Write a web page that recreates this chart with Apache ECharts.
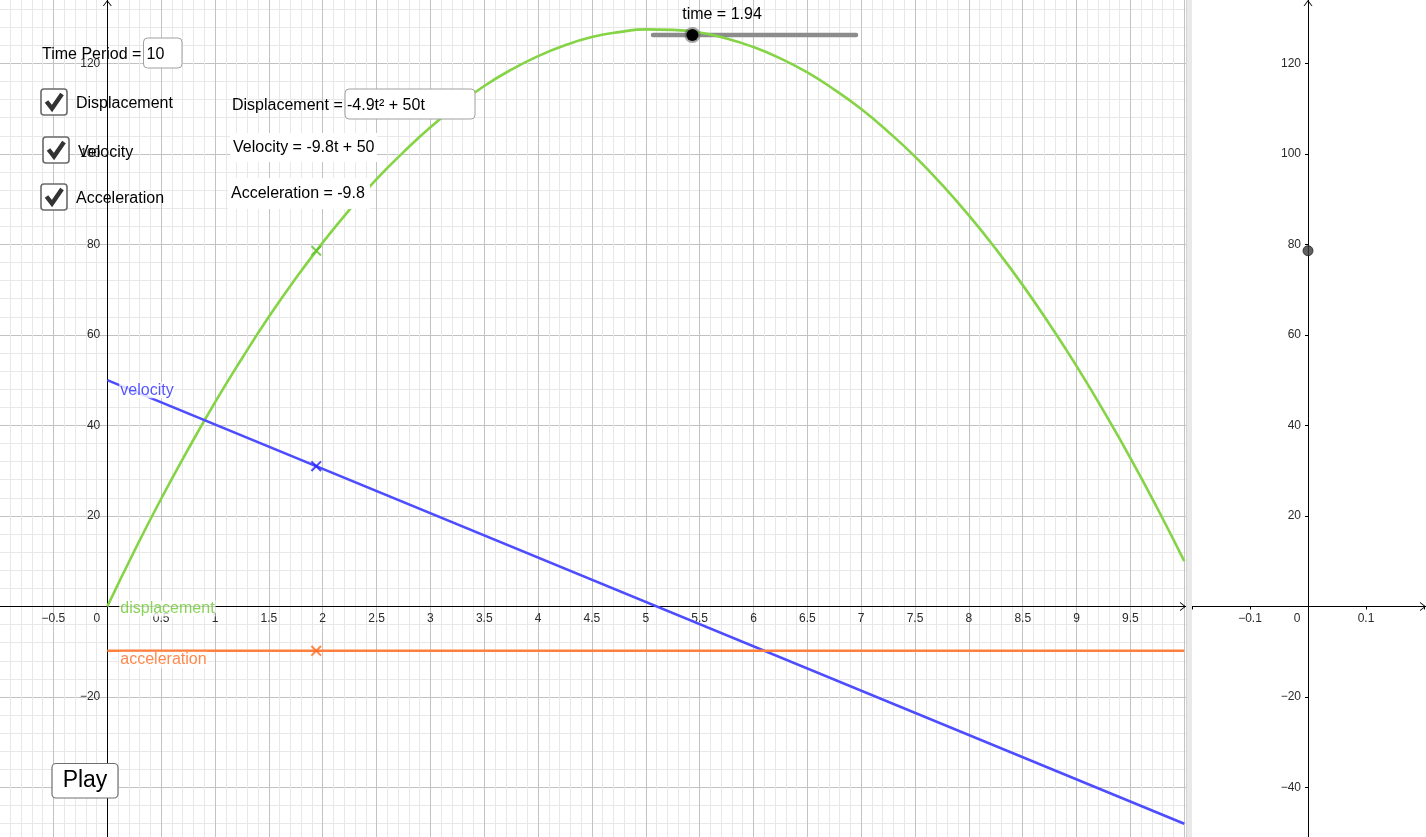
<!DOCTYPE html>
<html><head><meta charset="utf-8">
<script src="https://cdn.jsdelivr.net/npm/echarts@6/dist/echarts.min.js"></script>
<style>html,body{margin:0;padding:0;background:#fff;overflow:hidden}#c{width:1426px;height:837px}</style>
</head><body><div id="c"></div>
<script>
// ---- data ----
const timeValues = [0,0.25,0.5,0.75,1,1.25,1.5,1.75,2,2.25,2.5,2.75,3,3.25,3.5,3.75,4,4.25,4.5,4.75,5,5.25,5.5,5.75,6,6.25,6.5,6.75,7,7.25,7.5,7.75,8,8.25,8.5,8.75,9,9.25,9.5,9.75,10];
const displacementValues = [0,12.2,23.8,34.7,45.1,54.8,64,72.5,80.4,87.7,94.4,100.4,105.9,110.7,115,118.6,121.6,124,125.8,126.9,127.5,127.4,126.8,125.5,123.6,121.1,118,114.2,109.9,104.9,99.4,93.2,86.4,79,71,62.3,53.1,43.2,32.8,21.7,10];
const velocityTimes = [0,10];
const velocityValues = [50,-48];
const accelerationTimes = [0,10];
const accelerationValues = [-9.8,-9.8];
const currentTime = 1.94;
const currentDisplacement = 78.6;
const currentVelocity = 31;
const currentAcceleration = -9.8;
const timePeriod = 10;
const mainXTickLabels = [-0.5,0,0.5,1,1.5,2,2.5,3,3.5,4,4.5,5,5.5,6,6.5,7,7.5,8,8.5,9,9.5];
const yTickLabels = [120,100,80,60,40,20,-20,-40];
const sideXTickLabels = [-0.1,0,0.1];

const FONT = '"Liberation Sans", Arial, sans-serif';
const GREEN = '#84d446', BLUE = '#4d4dff', ORANGE = '#ff7f3f';
const arrow = 'path://M0,6 L4.5,0 L9,6 L8,6 L4.5,1.4 L1,6 Z';

// layout of the two graphics views (pixels)
const MAIN = {left:-0.4, width:1186.4, xmin:-1, xmax:10.016};
const SIDE = {left:1192, width:234, xmin:-0.2, xmax:0.2034};
const YV = {top:0, height:878, ymin:-60, ymax:134};
const zeroYOffset = -(YV.height * (0 - YV.ymin) / (YV.ymax - YV.ymin));
const mainZeroX = -(MAIN.width * (0 - MAIN.xmin) / (MAIN.xmax - MAIN.xmin));
const sideZeroX = -(SIDE.width * (0 - SIDE.xmin) / (SIDE.xmax - SIDE.xmin));

function fmtNum(v){ const r = parseFloat(v.toFixed(3)); return r < 0 ? '\u2212' + Math.abs(r) : String(r); }
function has(list, v){ return list.some(t => Math.abs(t - v) < 1e-6); }

const chart = echarts.init(document.getElementById('c'), null, {renderer:'canvas'});
const axisLabelBase = {fontSize:12, color:'#2a2a2a', fontFamily:FONT};

const option = {
  animation:false,
  backgroundColor:'#fff',
  grid:[
    {left:MAIN.left, top:YV.top, width:MAIN.width, height:YV.height, containLabel:false, outerBoundsMode:'none'},
    {left:SIDE.left, top:YV.top, width:SIDE.width, height:YV.height, containLabel:false, outerBoundsMode:'none'}
  ],
  xAxis:[
    {type:'value', gridIndex:0, min:MAIN.xmin, max:MAIN.xmax, interval:0.5, position:'bottom', offset:zeroYOffset,
     axisLine:{onZero:false, lineStyle:{color:'#000', width:1}, symbol:['none', arrow], symbolSize:[9,6], symbolOffset:[0,-3]},
     axisTick:{show:false},
     axisLabel:Object.assign({}, axisLabelBase, {margin:6, showMinLabel:true, showMaxLabel:false, hideOverlap:false,
       formatter:v => { if(!has(mainXTickLabels, v)) return ''; if(Math.abs(v)<1e-9) return '{z|0}'; return fmtNum(v); },
       rich:{z:{padding:[0,21,0,0], fontSize:12, color:'#2a2a2a', fontFamily:FONT}}}),
     splitLine:{show:true, showMinLine:true, showMaxLine:false, lineStyle:{color:'#c2c2c2', width:1}},
     minorTick:{show:false, splitNumber:5},
     minorSplitLine:{show:true, lineStyle:{color:'#e8e8e8', width:1}}
    },
    {type:'value', gridIndex:1, min:SIDE.xmin, max:SIDE.xmax, interval:0.1, position:'bottom', offset:zeroYOffset,
     axisLine:{onZero:false, lineStyle:{color:'#000', width:1}, symbol:['none', arrow], symbolSize:[9,6], symbolOffset:[0,-3]},
     axisTick:{show:true, length:3, inside:false, lineStyle:{color:'#000'}},
     axisLabel:Object.assign({}, axisLabelBase, {margin:6, showMaxLabel:false, hideOverlap:false,
       formatter:v => { if(!has(sideXTickLabels, v)) return ''; if(Math.abs(v)<1e-9) return '{z|0}'; return fmtNum(v); },
       rich:{z:{padding:[0,22,0,0], fontSize:12, color:'#2a2a2a', fontFamily:FONT}}}),
     splitLine:{show:false}
    }
  ],
  yAxis:[
    {type:'value', gridIndex:0, min:YV.ymin, max:YV.ymax, interval:20, position:'left', offset:mainZeroX,
     axisLine:{onZero:false, lineStyle:{color:'#000', width:1}, symbol:['none', arrow], symbolSize:[9,6], symbolOffset:[0,-3]},
     axisTick:{show:false},
     axisLabel:Object.assign({}, axisLabelBase, {margin:7, showMaxLabel:false, hideOverlap:false,
       formatter:v => has(yTickLabels, v) ? fmtNum(v) : ''}),
     splitLine:{show:true, showMinLine:true, showMaxLine:false, lineStyle:{color:'#c2c2c2', width:1}},
     minorTick:{show:false, splitNumber:5},
     minorSplitLine:{show:true, lineStyle:{color:'#e8e8e8', width:1}}
    },
    {type:'value', gridIndex:1, min:YV.ymin, max:YV.ymax, interval:20, position:'left', offset:sideZeroX,
     axisLine:{onZero:false, lineStyle:{color:'#000', width:1}, symbol:['none', arrow], symbolSize:[9,6], symbolOffset:[0,-3]},
     axisTick:{show:true, length:3, inside:false, lineStyle:{color:'#000'}},
     axisLabel:Object.assign({}, axisLabelBase, {margin:7, showMaxLabel:false, hideOverlap:false,
       formatter:v => has(yTickLabels, v) ? fmtNum(v) : ''}),
     splitLine:{show:false}
    }
  ],
  series:[
    {type:'line', name:'displacement', xAxisIndex:0, yAxisIndex:0, smooth:true, showSymbol:false, z:3,
     lineStyle:{color:GREEN, width:2.6}, itemStyle:{color:GREEN},
     data:timeValues.map((t,i)=>[t, displacementValues[i]])},
    {type:'line', name:'velocity', xAxisIndex:0, yAxisIndex:0, showSymbol:false, z:3,
     lineStyle:{color:BLUE, width:2.6}, itemStyle:{color:BLUE},
     data:velocityTimes.map((t,i)=>[t, velocityValues[i]])},
    {type:'line', name:'acceleration', xAxisIndex:0, yAxisIndex:0, showSymbol:false, z:3,
     lineStyle:{color:ORANGE, width:2.6}, itemStyle:{color:ORANGE},
     data:accelerationTimes.map((t,i)=>[t, accelerationValues[i]])},
    {type:'scatter', name:'markers', xAxisIndex:0, yAxisIndex:0, z:4,
     symbol:'path://M0,1.3 L1.3,0 L10,8.7 L8.7,10 Z M8.7,0 L10,1.3 L1.3,10 L0,8.7 Z', symbolSize:11,
     data:[
       {value:[currentTime, currentDisplacement], itemStyle:{color:'#62c02a'}},
       {value:[currentTime, currentVelocity], itemStyle:{color:'#1f1fff'}},
       {value:[currentTime, currentAcceleration], itemStyle:{color:'#ff6a1f'}}
     ]},
    {type:'scatter', name:'labels', xAxisIndex:0, yAxisIndex:0, z:5, symbolSize:0, silent:true,
     label:{show:true, position:'right', distance:0, fontSize:16, fontFamily:FONT, backgroundColor:'#fff', padding:[0,1,0,1]},
     data:[
       {value:[timeValues[0], displacementValues[0]], label:{formatter:'displacement', color:'#6cc92e', offset:[12,2]}},
       {value:[velocityTimes[0], velocityValues[0]], label:{formatter:'velocity', color:'#2a2aff', offset:[12,10]}},
       {value:[accelerationTimes[0], accelerationValues[0]], label:{formatter:'acceleration', color:'#ff6a1f', offset:[12,9]}}
     ]},
    {type:'scatter', name:'point', xAxisIndex:1, yAxisIndex:1, z:5, symbol:'circle', symbolSize:10,
     itemStyle:{color:'#3a3a3a', borderColor:'#222', borderWidth:1},
     data:[[0, currentDisplacement]]}
  ],
  graphic:[]
};

const G = option.graphic;
const txt = (x,y,text,size,align) => ({type:'text', x:x, y:y+1.5, z:100,
  style:{text:text, font:size+'px '+FONT, fill:'#000', align:align||'left', verticalAlign:'middle'}});
// separator between the two views
G.push({type:'rect', z:120, shape:{x:1186, y:0, width:6, height:837}, style:{fill:'#e9e9e9'}});
G.push({type:'rect', z:121, shape:{x:1186, y:0, width:1, height:837}, style:{fill:'#d4d4d4'}});
// Time period input
G.push(txt(42,53,'Time Period =',16));
G.push({type:'rect', z:100, shape:{x:143.5, y:38, width:38.5, height:30, r:4}, style:{fill:'#fff', stroke:'#a0a0a0', lineWidth:1}});
G.push(txt(146.5,53, String(timePeriod),16));
// checkboxes
[[41,89,'Displacement',76,102],[43,137,'Velocity',78,151],[41,184,'Acceleration',76,197]].forEach(c=>{
  G.push({type:'rect', z:100, shape:{x:c[0], y:c[1], width:26, height:26, r:3}, style:{fill:'#fff', stroke:'#6a6a6a', lineWidth:1.6}});
  G.push({type:'polyline', z:101, shape:{points:[[c[0]+5.5,c[1]+12.5],[c[0]+11,c[1]+19.5],[c[0]+21,c[1]+5]]},
    style:{stroke:'#333', lineWidth:4.4, fill:null, lineJoin:'miter', lineCap:'butt'}});
  G.push(txt(c[3],c[4],c[2],16));
});
// formula texts
G.push(txt(232,104,'Displacement =',16));
G.push({type:'rect', z:100, shape:{x:345, y:89, width:130, height:30, r:4}, style:{fill:'#fff', stroke:'#a0a0a0', lineWidth:1}});
G.push(txt(347,104,'-4.9t\u00b2 + 50t',16));
G.push({type:'rect', z:99, shape:{x:230, y:133, width:147, height:29}, style:{fill:'#fff'}});
G.push(txt(233,146,'Velocity = -9.8t + 50',16));
G.push({type:'rect', z:99, shape:{x:228, y:178, width:142, height:31}, style:{fill:'#fff'}});
G.push(txt(231,192,'Acceleration = -9.8',16));
// slider
const sliderX0 = 653, sliderX1 = 856, sliderY = 35;
const knobX = sliderX0 + currentTime / timePeriod * (sliderX1 - sliderX0);
G.push({type:'line', z:1, shape:{x1:sliderX0, y1:sliderY, x2:sliderX1, y2:sliderY}, style:{stroke:'#8c8c8c', lineWidth:4.5, lineCap:'round'}});
G.push(txt(722,13,'time = ' + currentTime.toFixed(2),16,'center'));
G.push({type:'circle', z:100, shape:{cx:knobX, cy:sliderY, r:8}, style:{fill:'rgba(90,90,90,0.55)'}});
G.push({type:'circle', z:101, shape:{cx:knobX, cy:sliderY, r:6}, style:{fill:'#000'}});
// play button
G.push({type:'rect', z:100, shape:{x:52, y:763.5, width:66, height:34.5, r:4}, style:{fill:'#fff', stroke:'#707070', lineWidth:1.2}});
G.push(txt(85,779.5,'Play',23,'center'));

chart.setOption(option);
</script>
</body></html>
